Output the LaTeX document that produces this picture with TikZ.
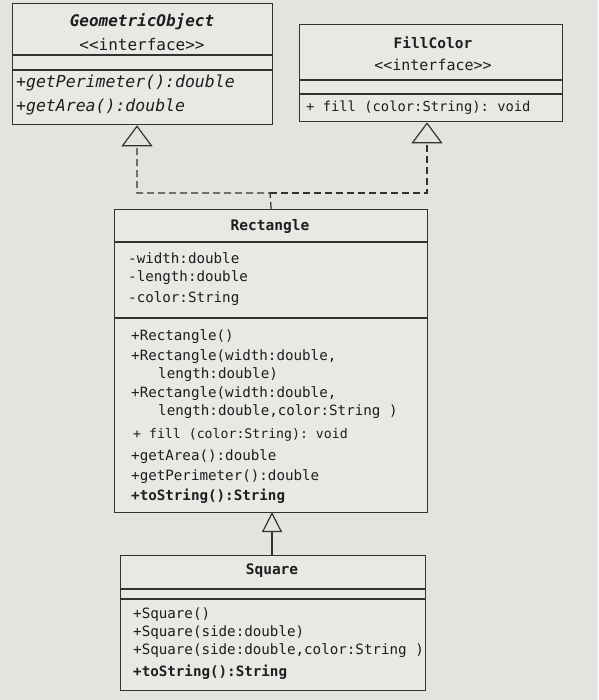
\documentclass[tikz,border=0pt]{standalone}
\usepackage{fontspec}
\setmonofont{DejaVu Sans Mono}
\usetikzlibrary{arrows.meta}
\definecolor{bg}{RGB}{226,229,223}
\definecolor{boxbg}{RGB}{230,233,228}
\definecolor{ink}{RGB}{50,50,50}
\definecolor{txtc}{RGB}{30,30,30}
\begin{document}
\begin{tikzpicture}[x=1pt,y=-1pt,
  box/.style={draw=ink, line width=1.3pt, fill=boxbg, anchor=north west, inner sep=0},
  sep/.style={draw=ink, line width=1.3pt},
  big/.style={inner sep=0, text=txtc, font=\ttfamily\fontsize{16.5}{18}\selectfont},
  mid/.style={inner sep=0, text=txtc, font=\ttfamily\fontsize{14.2}{16}\selectfont},
  lw/.style={anchor=west},
  real/.style={draw=ink, line width=1.2pt, dash pattern=on 7pt off 4pt, -{Triangle[open,length=21pt,width=31pt,line width=1.2pt]}},
  inh/.style={draw=ink, line width=1.2pt, -{Triangle[open,length=20pt,width=20pt,line width=1.2pt]}}]
\fill[bg] (0,0) rectangle (598,700);
\useasboundingbox (0,0) rectangle (598,700);
% GeometricObject
\node[box, minimum width=260pt, minimum height=121pt] (geo) at (12,3) {};
\draw[sep] (12,55) -- (272,55);
\draw[sep] (12,70) -- (272,70);
\node[big, font=\ttfamily\bfseries\itshape\fontsize{16}{18}\selectfont] (geoname) at (142,22) {GeometricObject};
\node[big, font=\ttfamily\fontsize{16}{18}\selectfont] (geost) at (142,45) {<{}<interface>{}>};
\node[big, lw, font=\ttfamily\itshape\fontsize{16.5}{18}\selectfont] (g1) at (16,83) {+getPerimeter():double};
\node[big, lw, font=\ttfamily\itshape\fontsize{16.5}{18}\selectfont] (g2) at (16,107) {+getArea():double};
% FillColor
\node[box, minimum width=263pt, minimum height=97pt] (fill) at (299,24) {};
\draw[sep] (299,80) -- (562,80);
\draw[sep] (299,94) -- (562,94);
\node[mid, font=\ttfamily\bfseries\fontsize{14.5}{16}\selectfont] (fname) at (433,43) {FillColor};
\node[mid, font=\ttfamily\fontsize{15}{16}\selectfont] (fst) at (433,65) {<{}<interface>{}>};
\node[mid, lw, font=\ttfamily\fontsize{13.8}{16}\selectfont] (f1) at (306,108) {+ fill (color:String): void};
% Rectangle
\node[box, minimum width=313pt, minimum height=303pt] (rect) at (114,209) {};
\draw[sep] (114,242) -- (427,242);
\draw[sep] (114,318) -- (427,318);
\node[mid, font=\ttfamily\bfseries\fontsize{14.5}{16}\selectfont] (rname) at (270,226) {Rectangle};
\node[mid, lw] (r1) at (128,258) {-width:double};
\node[mid, lw] (r2) at (128,278) {-length:double};
\node[mid, lw] (r3) at (128,299) {-color:String};
\node[mid, lw] (r4) at (131,337) {+Rectangle()};
\node[mid, lw] (r5) at (131,357) {+Rectangle(width:double,};
\node[mid, lw] (r6) at (158,375) {length:double)};
\node[mid, lw] (r7) at (131,394) {+Rectangle(width:double,};
\node[mid, lw] (r8) at (158,412) {length:double,color:String )};
\node[mid, lw, font=\ttfamily\fontsize{13.2}{16}\selectfont] (r9) at (133,435) {+ fill (color:String): void};
\node[mid, lw] (r10) at (131,457) {+getArea():double};
\node[mid, lw] (r11) at (131,477) {+getPerimeter():double};
\node[mid, lw, font=\ttfamily\bfseries\fontsize{14.2}{16}\selectfont] (r12) at (131,496) {+toString():String};
% Square
\node[box, minimum width=305pt, minimum height=135pt] (sq) at (120,555) {};
\draw[sep] (120,589) -- (425,589);
\draw[sep] (120,599) -- (425,599);
\node[mid, font=\ttfamily\bfseries\fontsize{14.5}{16}\selectfont] (sname) at (272,571) {Square};
\node[mid, lw] (s1) at (133,615) {+Square()};
\node[mid, lw] (s2) at (133,633) {+Square(side:double)};
\node[mid, lw] (s3) at (133,651) {+Square(side:double,color:String )};
\node[mid, lw, font=\ttfamily\bfseries\fontsize{14.2}{16}\selectfont] (s4) at (133,672) {+toString():String};
% connectors
\coordinate (jn) at (270,193);
\coordinate (ga) at (137,193);
\coordinate (fa) at (427,193);
\coordinate (rb) at (272,512);
\draw[real] (rect.north) -- (jn) -- (ga) -- (ga |- geo.south);
\draw[real] (jn) -- (fa) -- (fa |- fill.south);
\draw[inh] (sq.north -| rb) -- (rb);
\end{tikzpicture}
\end{document}
